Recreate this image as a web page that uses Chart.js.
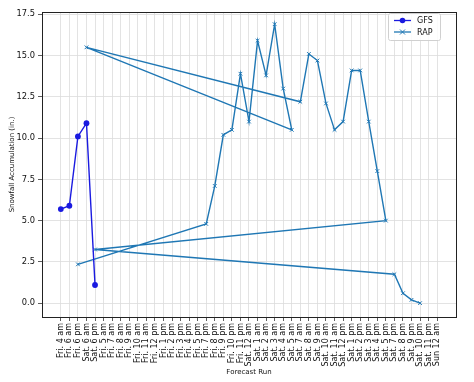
<!DOCTYPE html>
<html><head><meta charset="utf-8">
<script src="https://cdn.jsdelivr.net/npm/chart.js@4/dist/chart.umd.min.js"></script>
<style>html,body{margin:0;padding:0;background:#fff;}#wrap{width:474px;height:382px;position:relative;}</style>
</head><body><div id="wrap"><canvas id="c"></canvas></div>
<script>
const categories = ["Fri. 4 am","Fri. 6 am","Fri. 6 pm","Sat. 6 am","Sat. 6 pm","Fri. 5 am","Fri. 7 am","Fri. 8 am","Fri. 9 am","Fri. 10 am","Fri. 11 am","Fri. 12 pm","Fri. 1 pm","Fri. 2 pm","Fri. 3 pm","Fri. 4 pm","Fri. 5 pm","Fri. 7 pm","Fri. 8 pm","Fri. 9 pm","Fri. 10 pm","Fri. 11 pm","Sat. 12 am","Sat. 1 am","Sat. 2 am","Sat. 3 am","Sat. 4 am","Sat. 5 am","Sat. 7 am","Sat. 8 am","Sat. 9 am","Sat. 10 am","Sat. 11 am","Sat. 12 pm","Sat. 1 pm","Sat. 2 pm","Sat. 3 pm","Sat. 4 pm","Sat. 5 pm","Sat. 7 pm","Sat. 8 pm","Sat. 9 pm","Sat. 10 pm","Sat. 11 pm","Sun 12 am"];
const gfsTimes = ["Fri. 4 am","Fri. 6 am","Fri. 6 pm","Sat. 6 am","Sat. 6 pm"];
const gfsValues = [5.7,5.9,10.1,10.9,1.1];
const rapTimes = ["Fri. 6 pm","Fri. 7 pm","Fri. 8 pm","Fri. 9 pm","Fri. 10 pm","Fri. 11 pm","Sat. 12 am","Sat. 1 am","Sat. 2 am","Sat. 3 am","Sat. 4 am","Sat. 5 am","Sat. 6 am","Sat. 7 am","Sat. 8 am","Sat. 9 am","Sat. 10 am","Sat. 11 am","Sat. 12 pm","Sat. 1 pm","Sat. 2 pm","Sat. 3 pm","Sat. 4 pm","Sat. 5 pm","Sat. 6 pm","Sat. 7 pm","Sat. 8 pm","Sat. 9 pm","Sat. 10 pm"];
const rapValues = [2.35,4.8,7.1,10.2,10.5,13.9,11.0,15.9,13.8,16.9,13.0,10.5,15.5,12.2,15.1,14.7,12.1,10.5,11.0,14.1,14.1,11.0,8.0,5.0,3.25,1.75,0.6,0.2,0.0];
const yTicks = [0,2.5,5,7.5,10,12.5,15,17.5];

const toPoints = (times, vals) => times.map((t, i) => ({x: categories.indexOf(t), y: vals[i]}));
const GFS_COLOR = '#1a1ae0';
const RAP_COLOR = '#1f77b4';

const framePlugin = {
  id: 'frame',
  afterDraw(chart) {
    const {ctx, chartArea: a} = chart;
    ctx.save();
    ctx.strokeStyle = '#222';
    ctx.lineWidth = 1;
    ctx.strokeRect(Math.round(a.left) + 0.5, Math.round(a.top) + 0.5, Math.round(a.right - a.left), Math.round(a.bottom - a.top));
    // legend
    const bw = 52, bh = 27;
    const bx = 388, by = 13;
    ctx.fillStyle = 'rgba(255,255,255,0.85)';
    ctx.strokeStyle = '#d0d0d0';
    ctx.lineWidth = 1;
    ctx.beginPath();
    if (ctx.roundRect) ctx.roundRect(bx + 0.5, by + 0.5, bw, bh, 2); else ctx.rect(bx + 0.5, by + 0.5, bw, bh);
    ctx.fill(); ctx.stroke();
    const rows = [
      {label: 'GFS', color: GFS_COLOR, marker: 'o'},
      {label: 'RAP', color: RAP_COLOR, marker: 'x'}
    ];
    ctx.font = '8px "DejaVu Sans"';
    ctx.textBaseline = 'middle';
    rows.forEach((r, i) => {
      const cy = by + 7.5 + i * 11.5;
      const x0 = bx + 6, x1 = x0 + 17, xm = (x0 + x1) / 2;
      ctx.strokeStyle = r.color; ctx.lineWidth = 1.3;
      ctx.beginPath(); ctx.moveTo(x0, cy); ctx.lineTo(x1, cy); ctx.stroke();
      if (r.marker === 'o') {
        ctx.fillStyle = r.color;
        ctx.beginPath(); ctx.arc(xm, cy, 2.8, 0, Math.PI * 2); ctx.fill();
      } else {
        ctx.lineWidth = 1;
        ctx.beginPath(); ctx.moveTo(xm - 2.5, cy - 2.5); ctx.lineTo(xm + 2.5, cy + 2.5);
        ctx.moveTo(xm - 2.5, cy + 2.5); ctx.lineTo(xm + 2.5, cy - 2.5); ctx.stroke();
      }
      ctx.fillStyle = '#111';
      ctx.fillText(r.label, x1 + 6, cy + 0.5);
    });
    ctx.restore();
  }
};

new Chart(document.getElementById('c'), {
  type: 'line',
  data: {
    datasets: [
      {label: 'GFS', data: toPoints(gfsTimes, gfsValues), borderColor: GFS_COLOR, backgroundColor: GFS_COLOR,
       borderWidth: 1.4, pointStyle: 'circle', pointRadius: 2.9, pointBorderWidth: 0, pointHoverRadius: 2.9, tension: 0},
      {label: 'RAP', data: toPoints(rapTimes, rapValues), borderColor: RAP_COLOR, backgroundColor: RAP_COLOR,
       borderWidth: 1.4, pointStyle: 'crossRot', pointRadius: 2.6, pointBorderWidth: 1, pointHoverRadius: 2.6, tension: 0}
    ]
  },
  options: {
    responsive: true,
    maintainAspectRatio: false,
    animation: false,
    events: [],
    layout: {padding: {top: 12, right: 18, left: 0, bottom: 0}},
    plugins: {legend: {display: false}, tooltip: {enabled: false}},
    scales: {
      x: {
        type: 'linear',
        min: -2.2, max: categories.length - 1 + 2.2,
        afterBuildTicks: s => { s.ticks = categories.map((_, i) => ({value: i})); },
        afterFit: s => { s.height = 65; },
        ticks: {autoSkip: false, minRotation: 90, maxRotation: 90, padding: 2,
                color: '#111', font: {family: '"DejaVu Sans"', size: 8},
                callback: v => categories[v] ?? ''},
        grid: {color: '#dcdcdc', lineWidth: 0.8, tickColor: '#333', tickLength: 4},
        border: {display: false},
        title: {display: true, text: 'Forecast Run', color: '#111', font: {family: '"DejaVu Sans"', size: 7}, padding: {top: 0, bottom: 6}}
      },
      y: {
        type: 'linear',
        min: -0.84, max: 17.64,
        afterBuildTicks: s => { s.ticks = yTicks.map(v => ({value: v})); },
        afterFit: s => { s.width = 42; },
        ticks: {padding: 3, color: '#111', font: {family: '"DejaVu Sans"', size: 8.3},
                callback: v => Number(v).toFixed(1)},
        grid: {color: '#dcdcdc', lineWidth: 0.8, tickColor: '#333', tickLength: 4},
        border: {display: false},
        title: {display: true, text: 'Snowfall Accumulation (in.)', color: '#111', font: {family: '"DejaVu Sans"', size: 7}, padding: {top: 8, bottom: 0}}
      }
    }
  },
  plugins: [framePlugin]
});
</script></body></html>
